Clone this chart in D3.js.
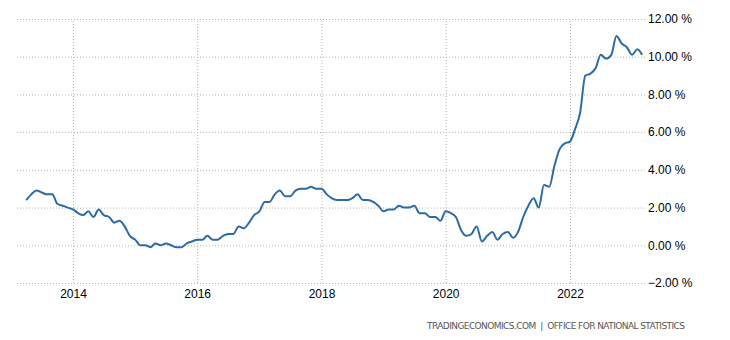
<!DOCTYPE html>
<html>
<head>
<meta charset="utf-8">
<script src="https://cdn.jsdelivr.net/npm/d3@7"></script>
<style>
  body { margin: 0; background: #fff; }
  svg { display: block; }
</style>
</head>
<body>
<svg width="730" height="340"></svg>
<script>
// UK CPI inflation, yearly rate, Apr 2013 .. Mar 2023 (monthly)
var startMonth = "2013-04";
var cpiValues = [
  2.4, 2.7, 2.9, 2.8, 2.7, 2.7, 2.2, 2.1, 2.0,
  1.9, 1.7, 1.6, 1.8, 1.5, 1.9, 1.6, 1.5, 1.2, 1.3, 1.0, 0.5,
  0.3, 0.0, 0.0, -0.1, 0.1, 0.0, 0.1, 0.0, -0.1, -0.1, 0.1, 0.2,
  0.3, 0.3, 0.5, 0.3, 0.3, 0.5, 0.6, 0.6, 1.0, 0.9, 1.2, 1.6,
  1.8, 2.3, 2.3, 2.7, 2.9, 2.6, 2.6, 2.9, 3.0, 3.0, 3.1, 3.0,
  3.0, 2.7, 2.5, 2.4, 2.4, 2.4, 2.5, 2.7, 2.4, 2.4, 2.3, 2.1,
  1.8, 1.9, 1.9, 2.1, 2.0, 2.0, 2.1, 1.7, 1.7, 1.5, 1.5, 1.3,
  1.8, 1.7, 1.5, 0.8, 0.5, 0.6, 1.0, 0.2, 0.5, 0.7, 0.3, 0.6,
  0.7, 0.4, 0.7, 1.5, 2.1, 2.5, 2.0, 3.2, 3.1, 4.2, 5.1, 5.4,
  5.5, 6.2, 7.0, 9.0, 9.1, 9.4, 10.1, 9.9, 10.1, 11.1, 10.7, 10.5,
  10.1, 10.4, 10.1
];
var yearTicks = [2014, 2016, 2018, 2020, 2022];
var yTicks = [-2, 0, 2, 4, 6, 8, 10, 12];
var sourceText = "TRADINGECONOMICS.COM  |  OFFICE FOR NATIONAL STATISTICS";

var svg = d3.select("svg");

var parseMonth = d3.timeParse("%Y-%m");
var first = parseMonth(startMonth);
var data = cpiValues.map(function(v, i) {
  return { date: d3.timeMonth.offset(first, i), value: v };
});

var plotLeft = 17, plotRight = 645;

var x = d3.scaleTime()
  .domain([new Date(2014, 0, 1), new Date(2022, 0, 1)])
  .range([73, 570]);

var y = d3.scaleLinear()
  .domain([-2, 12])
  .range([283, 19]);

// horizontal grid + right labels
var yAxis = d3.axisRight(y)
  .tickValues(yTicks)
  .tickSize(-(plotRight - plotLeft))
  .tickPadding(4)
  .tickFormat(function(d) { return d3.format(".2f")(d) + " %"; });

var gy = svg.append("g")
  .attr("transform", "translate(" + plotRight + ",0)")
  .call(yAxis);
gy.select(".domain").remove();
gy.selectAll(".tick line")
  .attr("stroke", "#b4b4b4")
  .attr("stroke-dasharray", "1,2");
gy.selectAll(".tick text")
  .attr("x", 3)
  .attr("fill", "#000")
  .style("font-family", "'Liberation Sans', Arial, sans-serif")
  .style("font-size", "12px");

// vertical grid + year labels
var xAxis = d3.axisBottom(x)
  .tickValues(yearTicks.map(function(yr) { return new Date(yr, 0, 1); }))
  .tickSize(-(283 - 19))
  .tickPadding(6)
  .tickFormat(d3.timeFormat("%Y"));

var gx = svg.append("g")
  .attr("transform", "translate(0,283)")
  .call(xAxis);
gx.select(".domain").remove();
gx.selectAll(".tick line")
  .attr("stroke", "#b4b4b4")
  .attr("stroke-dasharray", "1,2");
gx.selectAll(".tick text")
  .attr("fill", "#000")
  .style("font-family", "'Liberation Sans', Arial, sans-serif")
  .style("font-size", "12px");

// the series
var line = d3.line()
  .x(function(d) { return x(d.date); })
  .y(function(d) { return y(d.value); })
  .curve(d3.curveMonotoneX);

svg.append("path")
  .datum(data)
  .attr("fill", "none")
  .attr("stroke", "#2c6ba5")
  .attr("stroke-width", 2)
  .attr("stroke-linejoin", "round")
  .attr("d", line);

// source line
svg.append("text")
  .attr("x", 427)
  .attr("y", 329)
  .attr("textLength", 258)
  .attr("fill", "#555")
  .style("font-family", "'DejaVu Sans', Verdana, sans-serif")
  .style("font-size", "9px")
  .style("white-space", "pre")
  .text(sourceText);
</script>
</body>
</html>
